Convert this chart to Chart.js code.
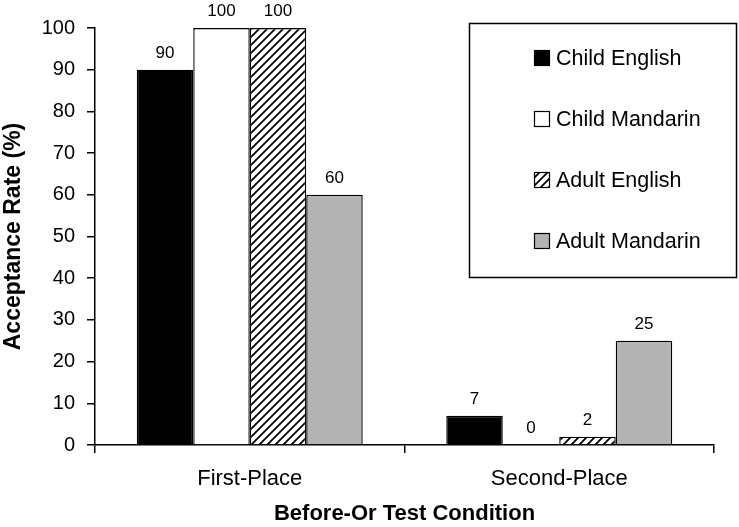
<!DOCTYPE html>
<html>
<head>
<meta charset="utf-8">
<script src="https://cdn.jsdelivr.net/npm/chart.js@4"></script>
<style>
  html, body { margin: 0; padding: 0; background: #fff; }
  #wrap { width: 739px; height: 527px; }
</style>
</head>
<body>
<div id="wrap"><canvas id="acceptChart" width="739" height="527"></canvas></div>
<script>
const conditions = ['First-Place', 'Second-Place'];
const childEnglish = [90, 7];
const childMandarin = [100, 0];
const adultEnglish = [100, 2];
const adultMandarin = [60, 25];
const yTicks = [0, 10, 20, 30, 40, 50, 60, 70, 80, 90, 100];

Chart.defaults.font.family = "'Liberation Sans', Arial, sans-serif";
Chart.defaults.color = '#000';

// diagonal hatch for Adult English
function makeHatch() {
  const c = document.createElement('canvas');
  c.width = 8; c.height = 8;
  const g = c.getContext('2d');
  g.fillStyle = '#fff';
  g.fillRect(0, 0, 8, 8);
  g.strokeStyle = '#000';
  g.lineWidth = 1.8;
  g.beginPath();
  g.moveTo(-2, 10); g.lineTo(10, -2);
  g.moveTo(-2, 2); g.lineTo(2, -2);
  g.moveTo(6, 10); g.lineTo(10, 6);
  g.stroke();
  return g.createPattern(c, 'repeat');
}
const hatch = makeHatch();

// value labels above each bar
const barLabels = {
  id: 'barLabels',
  afterDatasetsDraw(chart) {
    const ctx = chart.ctx;
    ctx.save();
    ctx.font = "17px 'Liberation Sans', Arial, sans-serif";
    ctx.fillStyle = '#000';
    ctx.textAlign = 'center';
    ctx.textBaseline = 'alphabetic';
    chart.data.datasets.forEach(function(ds, i) {
      chart.getDatasetMeta(i).data.forEach(function(bar, j) {
        ctx.fillText(String(ds.data[j]), bar.x, bar.y - 12);
      });
    });
    ctx.restore();
  }
};

// boxed legend in the upper right
const boxLegend = {
  id: 'boxLegend',
  afterDraw(chart) {
    const ctx = chart.ctx;
    const left = 469, top = 23, w = 267, h = 254;
    ctx.save();
    ctx.fillStyle = '#fff';
    ctx.fillRect(left, top, w, h);
    ctx.strokeStyle = '#000';
    ctx.lineWidth = 1.5;
    ctx.strokeRect(left + 0.5, top + 0.5, w, h);
    ctx.font = "21.5px 'Liberation Sans', Arial, sans-serif";
    ctx.textBaseline = 'middle';
    ctx.textAlign = 'left';
    chart.data.datasets.forEach(function(ds, i) {
      const cy = 58 + i * 61;
      ctx.fillStyle = ds.backgroundColor;
      ctx.fillRect(534, cy - 8, 16, 16);
      ctx.strokeStyle = '#000';
      ctx.lineWidth = 1.2;
      ctx.strokeRect(534.5, cy - 7.5, 15, 15);
      ctx.fillStyle = '#000';
      ctx.fillText(ds.label, 556, cy + 1);
    });
    ctx.restore();
  }
};

const ctx = document.getElementById('acceptChart');
new Chart(ctx, {
  type: 'bar',
  data: {
    labels: conditions,
    datasets: [
      { label: 'Child English', data: childEnglish, backgroundColor: '#000000' },
      { label: 'Child Mandarin', data: childMandarin, backgroundColor: '#ffffff' },
      { label: 'Adult English', data: adultEnglish, backgroundColor: hatch },
      { label: 'Adult Mandarin', data: adultMandarin, backgroundColor: '#b3b3b3' }
    ]
  },
  options: {
    responsive: false,
    animation: false,
    layout: { padding: { top: 28, right: 25, left: 0, bottom: 0 } },
    datasets: {
      bar: {
        borderColor: '#000',
        borderWidth: 1.4,
        categoryPercentage: 0.73,
        barPercentage: 1
      }
    },
    plugins: {
      legend: { display: false },
      tooltip: { enabled: false }
    },
    scales: {
      x: {
        grid: { offset: true, drawOnChartArea: false, color: '#000', tickLength: 8, lineWidth: 1.5 },
        border: { color: '#000', width: 1.5 },
        ticks: { font: { size: 22 }, padding: 13, color: '#000' },
        title: {
          display: true,
          text: 'Before-Or Test Condition',
          font: { size: 22, weight: 'bold' },
          padding: { top: 0, bottom: 0 },
          color: '#000'
        },
        afterFit(scale) { scale.height = 82; }
      },
      y: {
        min: 0,
        max: 100,
        afterBuildTicks(scale) { scale.ticks = yTicks.map(function(v) { return { value: v }; }); },
        grid: { drawOnChartArea: false, color: '#000', tickLength: 8, lineWidth: 1.5 },
        border: { color: '#000', width: 1.5 },
        ticks: { font: { size: 20 }, padding: 12, color: '#000' },
        title: {
          display: true,
          text: 'Acceptance Rate (%)',
          font: { size: 23, weight: 'bold' },
          padding: { top: 0, bottom: 0 },
          color: '#000'
        },
        afterFit(scale) { scale.width = 95; }
      }
    }
  },
  plugins: [barLabels, boxLegend]
});
</script>
</body>
</html>
